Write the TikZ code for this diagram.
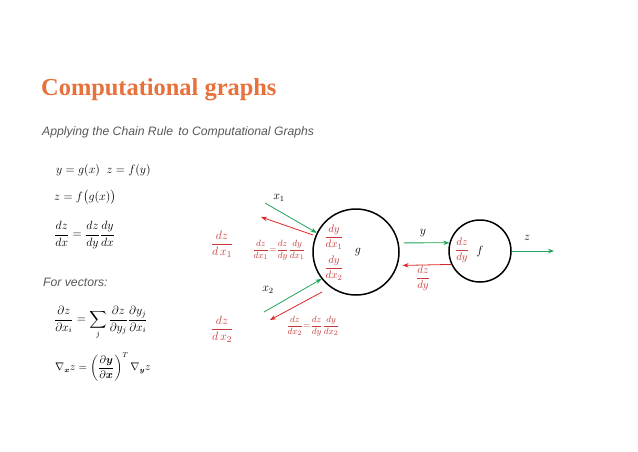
\documentclass[tikz,border=0pt]{standalone}
\usepackage{amsmath,bm}
\usepackage{fontspec}
\setmainfont{Liberation Serif}
\setsansfont{Liberation Sans}
\usetikzlibrary{arrows.meta}
\definecolor{ttl}{HTML}{E8703A}
\definecolor{gtext}{HTML}{595959}
\definecolor{rtxt}{HTML}{C83A3A}
\definecolor{garrow}{HTML}{1FA55A}
\definecolor{rarrow}{HTML}{E02828}
\begin{document}
\begin{tikzpicture}[x=1pt,y=-1pt,
  eq/.style={anchor=west,inner sep=0pt,font=\fontsize{12.5}{15}\selectfont},
  reqbig/.style={inner sep=0pt,text=rtxt,font=\fontsize{12.5}{15}\selectfont},
  reqsmall/.style={inner sep=0pt,text=rtxt,font=\fontsize{9.5}{11}\selectfont},
  reqmid/.style={inner sep=0pt,text=rtxt,font=\fontsize{11}{13}\selectfont},
  sub/.style={anchor=west,inner sep=0pt,text=gtext,font=\sffamily\itshape\fontsize{12.2}{14}\selectfont},
  lbl/.style={inner sep=0pt,font=\fontsize{12}{14}\selectfont},
  gar/.style={draw=garrow,line width=0.8pt,-{Stealth[length=6pt,width=4.5pt]}},
  rar/.style={draw=rarrow,line width=0.8pt,-{Stealth[length=6pt,width=4.5pt]}},
  nd/.style={draw,circle,line width=1.5pt,inner sep=0pt}
]
\useasboundingbox (0,0) rectangle (638,451);
\fill[white] (0,0) rectangle (638,451);

\node[anchor=west,inner sep=0pt,text=ttl,font=\bfseries\fontsize{24.4}{28}\selectfont] (title) at (41,90) {Computational graphs};
\node[sub] (subt) at (42,132) {Applying the Chain Rule\, to Computational Graphs};

\node[eq,font=\fontsize{13}{15}\selectfont] (e1) at (56,170) {$y=g(x)\ \ z=f(y)$};
\node[eq,font=\fontsize{13}{15}\selectfont] (e2) at (54,197) {$z=f\bigl(g(x)\bigr)$};
\node[eq] (e3) at (54,235) {$\displaystyle \frac{dz}{dx}=\frac{dz}{dy}\frac{dy}{dx}$};
\node[sub] (fv) at (43,282) {For vectors:};
\node[eq,font=\fontsize{11.8}{14}\selectfont] (e4) at (54,323) {$\displaystyle \frac{\partial z}{\partial x_i}=\sum_j\frac{\partial z}{\partial y_j}\frac{\partial y_j}{\partial x_i}$};
\node[eq,font=\fontsize{10.5}{13}\selectfont] (e5) at (55,367) {$\displaystyle \nabla_{\bm{x}}z=\left(\frac{\partial \bm{y}}{\partial \bm{x}}\right)^{T}\nabla_{\bm{y}}z$};

% nodes
\node[nd,minimum size=86pt] (g) at (356,252) {};
\node[lbl] (glbl) at (358,252) {$g$};
\node[nd,minimum size=62pt] (f) at (480,251) {};
\node[lbl] (flbl) at (480,251) {$f$};

% free ends
\coordinate (x1s) at (265,203);
\coordinate (x1e) at (261,217);
\coordinate (x1r) at (313,235);
\coordinate (x2s) at (264,312);
\coordinate (x2r) at (322,292);
\coordinate (x2e) at (270,320);
\coordinate (ze) at (554,251);

\draw[gar] (x1s) -- (g.154);
\draw[rar] (x1r) -- (x1e);
\draw[gar] (x2s) -- (g.218);
\draw[rar] (x2r) -- (x2e);
\draw[gar,shorten <=5pt] (g.12) -- (f.165);
\draw[rar,shorten >=5pt] (f.205) -- (g.342);
\draw[gar] (f.0) -- (ze);

% labels
\node[lbl] (lx1) at (279,198) {$x_1$};
\node[lbl] (lx2) at (268,290) {$x_2$};
\node[lbl] (ly) at (423,233) {$y$};
\node[lbl] (lz) at (527,238) {$z$};

\node[reqmid] (dydx1) at (334,237) {$\dfrac{dy}{dx_1}$};
\node[reqmid] (dydx2) at (334,268) {$\dfrac{dy}{dx_2}$};
\node[reqmid] (dzdyin) at (462,250) {$\dfrac{dz}{dy}$};
\node[reqmid] (dzdyb) at (423,278) {$\dfrac{dz}{dy}$};

\node[reqbig] (big1) at (222,244) {$\dfrac{dz}{d\,x_1}$};
\node[reqbig] (big2) at (222,329) {$\dfrac{dz}{d\,x_2}$};
\node[reqsmall] (ch1) at (279,250) {$\dfrac{dz}{dx_1}{=}\dfrac{dz}{dy}\dfrac{dy}{dx_1}$};
\node[reqsmall] (ch2) at (313,326) {$\dfrac{dz}{dx_2}{=}\dfrac{dz}{dy}\dfrac{dy}{dx_2}$};
\end{tikzpicture}
\end{document}
